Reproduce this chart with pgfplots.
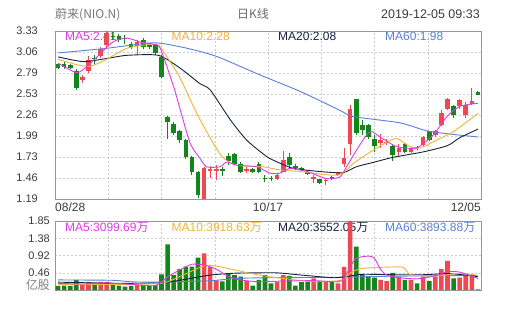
\documentclass[border=0pt]{standalone}
\usepackage{pgfplots}
\pgfplotsset{compat=1.18}
\usepackage{pgfplotstable}
\usepackage{fontspec}
\setmainfont{Liberation Sans}
\newfontfamily\cjk{Noto Sans CJK SC}
\definecolor{upred}{RGB}{240,72,82}
\definecolor{dngreen}{RGB}{18,134,28}
\definecolor{mafive}{RGB}{225,60,225}
\definecolor{maten}{RGB}{240,180,60}
\definecolor{matwenty}{RGB}{22,36,64}
\definecolor{masixty}{RGB}{90,130,210}
\definecolor{framec}{RGB}{150,150,150}
\definecolor{gridc}{RGB}{205,205,205}
\definecolor{txt}{RGB}{60,60,60}

\pgfplotstableread{
i O H L C
4 2.71 2.77 2.67 2.74
5 2.82 3.01 2.80 2.96
7 3.01 3.13 2.98 3.10
8 3.15 3.33 3.12 3.31
13 3.14 3.21 3.03 3.19
24 1.19 1.60 1.19 1.58
25 1.55 1.61 1.46 1.57
26 1.55 1.62 1.43 1.57
31 1.55 1.60 1.52 1.57
36 1.45 1.52 1.43 1.50
37 1.54 1.80 1.53 1.69
42 1.44 1.49 1.40 1.47
44 1.42 1.46 1.37 1.435
46 1.50 1.54 1.48 1.53
47 1.64 1.84 1.60 1.71
48 1.89 2.39 1.75 2.34
53 1.90 2.02 1.84 1.94
54 1.905 1.95 1.88 1.92
56 1.79 1.89 1.72 1.84
58 1.79 1.85 1.78 1.83
60 1.88 1.99 1.85 1.98
62 2.00 2.07 1.98 2.06
63 2.13 2.32 2.12 2.28
64 2.34 2.48 2.32 2.46
66 2.37 2.46 2.34 2.45
67 2.26 2.43 2.22 2.39
68 2.40 2.60 2.39 2.44
}\upc

\pgfplotstableread{
i O H L C
0 2.91 2.92 2.84 2.86
1 2.91 2.93 2.85 2.87
2 2.90 2.91 2.84 2.86
3 2.82 2.84 2.58 2.60
6 2.99 3.02 2.91 2.97
9 3.27 3.32 3.21 3.255
10 3.27 3.29 3.19 3.22
11 3.24 3.28 3.17 3.225
12 3.17 3.19 3.10 3.13
14 3.22 3.24 3.10 3.13
15 3.15 3.17 3.10 3.12
16 3.15 3.16 3.03 3.05
17 3.00 3.02 2.73 2.74
18 2.23 2.25 1.96 2.17
19 2.15 2.17 2.00 2.03
20 2.06 2.07 1.90 1.94
21 1.94 1.96 1.70 1.73
22 1.72 1.74 1.50 1.54
23 1.53 1.55 1.20 1.24
27 1.57 1.60 1.48 1.55
28 1.74 1.78 1.62 1.67
29 1.76 1.78 1.62 1.64
30 1.64 1.66 1.52 1.54
32 1.57 1.59 1.52 1.54
33 1.63 1.66 1.52 1.54
34 1.46 1.49 1.41 1.445
35 1.46 1.48 1.42 1.445
38 1.73 1.78 1.58 1.62
39 1.61 1.63 1.56 1.58
40 1.59 1.60 1.55 1.565
41 1.54 1.56 1.50 1.51
43 1.44 1.45 1.38 1.39
45 1.47 1.48 1.43 1.44
49 2.46 2.47 2.00 2.03
50 2.13 2.20 2.00 2.07
51 2.13 2.15 1.96 1.98
52 1.96 2.01 1.79 1.86
55 1.86 1.88 1.68 1.75
57 1.89 1.90 1.77 1.79
59 1.855 1.87 1.81 1.84
61 2.05 2.06 1.93 1.94
65 2.37 2.39 2.22 2.26
69 2.55 2.56 2.51 2.52
}\dnc

\pgfplotstableread{
i V
4 0.15
5 0.21
7 0.21
8 0.21
13 0.13
24 0.98
25 0.62
26 0.26
31 0.24
36 0.21
37 0.40
42 0.31
44 0.21
46 0.18
47 0.62
48 1.85
53 0.27
54 0.24
56 0.36
58 0.27
60 0.36
62 0.36
63 0.56
64 0.78
66 0.33
67 0.40
68 0.42
}\upv

\pgfplotstableread{
i V
0 0.11
1 0.12
2 0.11
3 0.27
6 0.15
9 0.15
10 0.12
11 0.09
12 0.11
14 0.13
15 0.12
16 0.13
17 0.42
18 1.22
19 0.40
20 0.56
21 0.63
22 0.63
23 0.87
27 0.23
28 0.45
29 0.40
30 0.36
32 0.12
33 0.27
34 0.40
35 0.18
38 0.38
39 0.12
40 0.21
41 0.21
43 0.24
45 0.21
49 1.16
50 0.40
51 0.38
52 0.33
55 0.46
57 0.27
59 0.18
61 0.24
65 0.31
69 0.02
}\dnv

\begin{document}
\begin{tikzpicture}
\path[use as bounding box, fill=white] (0bp,0bp) rectangle (505bp,310bp);

% titles
\node[anchor=base west, inner sep=0pt, text={rgb,255:red,120;green,120;blue,120}] at (55bp,291bp) {\fontsize{12bp}{14bp}\cjk 蔚来(NIO.N)};
\node[anchor=base, inner sep=0pt, text={rgb,255:red,110;green,110;blue,110}] at (253bp,291bp) {\fontsize{12bp}{14bp}\cjk 日K线};
\node[anchor=base east, inner sep=0pt, text=txt] at (480bp,291bp) {\fontsize{12.5bp}{14bp}\selectfont 2019-12-05 09:33};

% main legend
\node[anchor=base west, inner sep=0pt, text=mafive] at (65bp,269bp) {\fontsize{12bp}{14bp}\selectfont MA5:2.41};
\node[anchor=base west, inner sep=0pt, text=maten] at (171.5bp,269bp) {\fontsize{12bp}{14bp}\selectfont MA10:2.28};
\node[anchor=base west, inner sep=0pt, text=matwenty] at (278bp,269bp) {\fontsize{12bp}{14bp}\selectfont MA20:2.08};
\node[anchor=base west, inner sep=0pt, text=masixty] at (385bp,269bp) {\fontsize{12bp}{14bp}\selectfont MA60:1.98};

% volume legend
\node[anchor=base west, inner sep=0pt, text=mafive] at (65bp,78bp) {\fontsize{12bp}{14bp}\selectfont MA5:3099.69{\cjk 万}};
\node[anchor=base west, inner sep=0pt, text=maten] at (171.5bp,78bp) {\fontsize{12bp}{14bp}\selectfont MA10:3918.63{\cjk 万}};
\node[anchor=base west, inner sep=0pt, text=matwenty] at (278bp,78bp) {\fontsize{12bp}{14bp}\selectfont MA20:3552.05{\cjk 万}};
\node[anchor=base west, inner sep=0pt, text=masixty] at (385bp,78bp) {\fontsize{12bp}{14bp}\selectfont MA60:3893.88{\cjk 万}};

% date labels
\node[anchor=base west, inner sep=0pt, text=txt] at (55bp,98bp) {\fontsize{12bp}{14bp}\selectfont 08/28};
\node[anchor=base, inner sep=0pt, text=txt] at (268bp,98bp) {\fontsize{12bp}{14bp}\selectfont 10/17};
\node[anchor=base east, inner sep=0pt, text=txt] at (481bp,98bp) {\fontsize{12bp}{14bp}\selectfont 12/05};

% unit label
\node[anchor=east, inner sep=0pt, text={rgb,255:red,130;green,130;blue,130}] at (50bp,25bp) {\fontsize{12bp}{14bp}\cjk 亿股};

\begin{axis}[
  at={(55bp,111bp)}, anchor=south west,
  width=426bp, height=168bp, scale only axis,
  xmin=-0.5, xmax=69.5, ymin=1.19, ymax=3.33,
  axis line style={draw=framec},
  xtick={8.25,17,25.75,34.5,43.25,52,60.75}, xticklabels={},
  ytick={1.19,1.4575,1.725,1.9925,2.26,2.5275,2.795,3.0625,3.33},
  yticklabels={1.19,1.46,1.73,1.99,2.26,2.53,2.79,3.06,3.33},
  yticklabel style={font=\fontsize{11bp}{13bp}\selectfont, text=txt, inner sep=0pt, anchor=east, xshift=-17bp},
  /pgf/number format/assume math mode=true,
  grid=major, major grid style={draw=gridc, dash pattern=on 2bp off 2bp},
  major tick length=0pt,
]
\addplot[draw=upred, line width=1bp, quiver={u=0, v=\thisrow{H}-\thisrow{L}}] table[x=i, y=L] {\upc};
\addplot[draw=upred, line width=4.6bp, quiver={u=0, v=\thisrow{C}-\thisrow{O}}] table[x=i, y=O] {\upc};
\addplot[draw=dngreen, line width=1bp, quiver={u=0, v=\thisrow{H}-\thisrow{L}}] table[x=i, y=L] {\dnc};
\addplot[draw=dngreen, line width=4.6bp, quiver={u=0, v=\thisrow{C}-\thisrow{O}}] table[x=i, y=O] {\dnc};

\addplot[masixty, line width=0.9bp, smooth, tension=0.4] coordinates {
(0,3.05) (8,3.11) (15.6,3.18) (20,3.13) (23.3,3.07) (26.6,2.99) (33.2,2.77) (39.8,2.56) (46.3,2.32) (48.5,2.24) (56.2,2.16) (61.1,2.05) (69,1.98)};
\addplot[matwenty, line width=0.9bp, smooth, tension=0.4] coordinates {
(0,3.00) (4.15,2.94) (8,2.98) (11.3,3.02) (16.5,3.02) (20,2.86) (23.3,2.66) (25,2.58) (28.3,2.20) (31,1.94) (34.3,1.73) (36.5,1.645) (38.7,1.58) (43,1.54) (46.8,1.525) (49,1.60) (52,1.66) (55,1.72) (60,1.79) (64,1.87) (66,1.97) (69,2.08)};
\addplot[maten, line width=0.9bp, smooth, tension=0.4] coordinates {
(0,2.97) (3.1,2.90) (5.3,2.88) (8,2.97) (11.3,3.11) (15.1,3.16) (16.5,3.15) (17.9,3.00) (20,2.74) (22.8,2.28) (25.5,1.90) (27.2,1.71) (29.4,1.62) (33.7,1.60) (36.5,1.56) (39.8,1.54) (46,1.495) (48.8,1.66) (53.2,1.88) (55.6,1.96) (57.8,1.86) (59.5,1.84) (62.2,1.94) (65,2.05) (69,2.28)};
\addplot[mafive, line width=0.9bp, smooth, tension=0.4] coordinates {
(0,2.92) (3,2.80) (4.5,2.86) (6.4,3.00) (9,3.19) (11.3,3.24) (13.5,3.19) (15.7,3.16) (16.8,3.11) (19,2.62) (20,2.35) (21.7,1.90) (23.3,1.71) (24.4,1.60) (26.6,1.60) (27.7,1.66) (29.4,1.62) (32.6,1.60) (34.8,1.52) (36.5,1.52) (38.1,1.58) (40.9,1.54) (44.1,1.45) (46.3,1.47) (47.4,1.60) (49.6,1.88) (51.3,2.05) (52.9,1.98) (55.6,1.86) (58.9,1.84) (61.7,2.01) (63.9,2.24) (66,2.37) (69,2.41)};
\end{axis}

\begin{axis}[
  at={(55bp,20bp)}, anchor=south west,
  width=426bp, height=69bp, scale only axis,
  xmin=-0.5, xmax=69.5, ymin=0, ymax=1.85,
  axis line style={draw=framec},
  xtick={8.25,17,25.75,34.5,43.25,52,60.75}, xticklabels={},
  ytick={0.4625,0.925,1.3875,1.85},
  yticklabels={0.46,0.92,1.38,1.85},
  yticklabel style={font=\fontsize{11bp}{13bp}\selectfont, text=txt, inner sep=0pt, anchor=east, xshift=-5bp},
  grid=major, major grid style={draw=gridc, dash pattern=on 2bp off 2bp},
  major tick length=0pt,
]
\addplot[ybar, bar width=4.6bp, bar shift=0pt, fill=upred, draw=none] table[x=i, y=V] {\upv};
\addplot[ybar, bar width=4.6bp, bar shift=0pt, fill=dngreen, draw=none] table[x=i, y=V] {\dnv};

\addplot[masixty, line width=0.9bp, smooth, tension=0.4] coordinates {
(0,0.27) (9,0.26) (12,0.22) (17,0.21) (25,0.25) (31,0.32) (45,0.34) (55,0.37) (69,0.39)};
\addplot[matwenty, line width=0.9bp, smooth, tension=0.4] coordinates {
(0,0.21) (10,0.18) (17,0.19) (20,0.26) (25,0.40) (29,0.45) (33,0.46) (36,0.46) (40,0.40) (45,0.33) (47,0.35) (50,0.42) (55,0.41) (60,0.41) (64,0.44) (67,0.40) (69,0.355)};
\addplot[maten, line width=0.9bp, smooth, tension=0.4] coordinates {
(0,0.15) (10,0.15) (17,0.18) (20,0.36) (24,0.65) (26,0.64) (29,0.54) (33,0.40) (37,0.31) (42,0.22) (46,0.25) (47,0.30) (48,0.45) (50,0.58) (56,0.62) (57,0.57) (58,0.41) (62,0.37) (66,0.45) (69,0.39)};
\addplot[mafive, line width=0.9bp, smooth, tension=0.4] coordinates {
(0,0.18) (4,0.16) (8,0.19) (12,0.15) (16,0.12) (18,0.35) (20,0.54) (22,0.69) (24,0.67) (26,0.56) (28,0.36) (30,0.27) (33,0.22) (37,0.24) (42,0.25) (46,0.22) (47,0.31) (48,0.62) (49,0.85) (51,0.91) (52,0.85) (53,0.55) (54,0.40) (56,0.33) (59,0.30) (62,0.38) (64,0.49) (66,0.48) (69,0.31)};
\end{axis}
\end{tikzpicture}
\end{document}
